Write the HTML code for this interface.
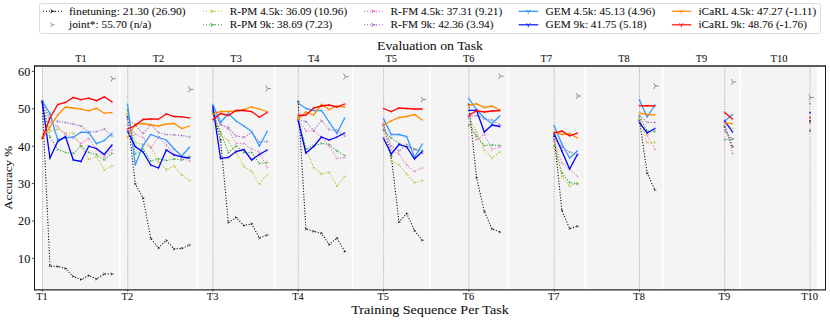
<!DOCTYPE html>
<html><head><meta charset="utf-8"><style>
html,body{margin:0;padding:0;background:#fff;width:830px;height:320px;overflow:hidden}
svg text{font-family:"Liberation Serif", serif;fill:#111;stroke:#111;stroke-width:0.08px}
</style></head><body>
<svg width="830" height="320" viewBox="0 0 830 320" style="display:block">
<rect x="0" y="0" width="830" height="320" fill="#fff"/>
<rect x="42.20" y="66.0" width="76.81" height="223.60000000000002" fill="#f4f4f4"/>
<rect x="120.51" y="66.0" width="76.06" height="223.60000000000002" fill="#f4f4f4"/>
<rect x="198.07" y="66.0" width="76.06" height="223.60000000000002" fill="#f4f4f4"/>
<rect x="275.63" y="66.0" width="76.06" height="223.60000000000002" fill="#f4f4f4"/>
<rect x="353.19" y="66.0" width="76.06" height="223.60000000000002" fill="#f4f4f4"/>
<rect x="430.75" y="66.0" width="76.06" height="223.60000000000002" fill="#f4f4f4"/>
<rect x="508.31" y="66.0" width="76.06" height="223.60000000000002" fill="#f4f4f4"/>
<rect x="585.87" y="66.0" width="76.06" height="223.60000000000002" fill="#f4f4f4"/>
<rect x="663.43" y="66.0" width="76.06" height="223.60000000000002" fill="#f4f4f4"/>
<rect x="740.99" y="66.0" width="76.06" height="223.60000000000002" fill="#f4f4f4"/>
<line x1="42.45" y1="66.0" x2="42.45" y2="289.6" stroke="#999999" stroke-width="0.8" stroke-dasharray="1.25,1.25"/>
<line x1="127.74" y1="66.0" x2="127.74" y2="289.6" stroke="#999999" stroke-width="0.8" stroke-dasharray="1.25,1.25"/>
<line x1="213.03" y1="66.0" x2="213.03" y2="289.6" stroke="#999999" stroke-width="0.8" stroke-dasharray="1.25,1.25"/>
<line x1="298.32" y1="66.0" x2="298.32" y2="289.6" stroke="#999999" stroke-width="0.8" stroke-dasharray="1.25,1.25"/>
<line x1="383.61" y1="66.0" x2="383.61" y2="289.6" stroke="#999999" stroke-width="0.8" stroke-dasharray="1.25,1.25"/>
<line x1="468.90" y1="66.0" x2="468.90" y2="289.6" stroke="#999999" stroke-width="0.8" stroke-dasharray="1.25,1.25"/>
<line x1="554.19" y1="66.0" x2="554.19" y2="289.6" stroke="#999999" stroke-width="0.8" stroke-dasharray="1.25,1.25"/>
<line x1="639.48" y1="66.0" x2="639.48" y2="289.6" stroke="#999999" stroke-width="0.8" stroke-dasharray="1.25,1.25"/>
<line x1="724.77" y1="66.0" x2="724.77" y2="289.6" stroke="#999999" stroke-width="0.8" stroke-dasharray="1.25,1.25"/>
<line x1="810.06" y1="66.0" x2="810.06" y2="289.6" stroke="#999999" stroke-width="0.8" stroke-dasharray="1.25,1.25"/>
<polyline points="42.20,101.80 49.96,266.00 57.71,266.50 65.47,268.50 73.22,276.50 80.98,279.50 88.74,275.50 96.49,279.00 104.25,274.00 112.00,274.00" fill="none" stroke="#000000" stroke-width="1.05" stroke-dasharray="1.1,1.7" stroke-linejoin="round"/>
<path d="M42.20,101.80h1.5M42.20,101.80l-0.75,-1.3M42.20,101.80l-0.75,1.3M49.96,266.00h1.5M49.96,266.00l-0.75,-1.3M49.96,266.00l-0.75,1.3M57.71,266.50h1.5M57.71,266.50l-0.75,-1.3M57.71,266.50l-0.75,1.3M65.47,268.50h1.5M65.47,268.50l-0.75,-1.3M65.47,268.50l-0.75,1.3M73.22,276.50h1.5M73.22,276.50l-0.75,-1.3M73.22,276.50l-0.75,1.3M80.98,279.50h1.5M80.98,279.50l-0.75,-1.3M80.98,279.50l-0.75,1.3M88.74,275.50h1.5M88.74,275.50l-0.75,-1.3M88.74,275.50l-0.75,1.3M96.49,279.00h1.5M96.49,279.00l-0.75,-1.3M96.49,279.00l-0.75,1.3M104.25,274.00h1.5M104.25,274.00l-0.75,-1.3M104.25,274.00l-0.75,1.3M112.00,274.00h1.5M112.00,274.00l-0.75,-1.3M112.00,274.00l-0.75,1.3" fill="none" stroke="#000000" stroke-width="0.6"/>
<polyline points="127.52,116.50 135.27,184.00 143.03,198.00 150.78,238.40 158.54,248.00 166.30,240.40 174.05,249.00 181.81,248.40 189.56,245.00" fill="none" stroke="#000000" stroke-width="1.05" stroke-dasharray="1.1,1.7" stroke-linejoin="round"/>
<path d="M127.52,116.50h1.5M127.52,116.50l-0.75,-1.3M127.52,116.50l-0.75,1.3M135.27,184.00h1.5M135.27,184.00l-0.75,-1.3M135.27,184.00l-0.75,1.3M143.03,198.00h1.5M143.03,198.00l-0.75,-1.3M143.03,198.00l-0.75,1.3M150.78,238.40h1.5M150.78,238.40l-0.75,-1.3M150.78,238.40l-0.75,1.3M158.54,248.00h1.5M158.54,248.00l-0.75,-1.3M158.54,248.00l-0.75,1.3M166.30,240.40h1.5M166.30,240.40l-0.75,-1.3M166.30,240.40l-0.75,1.3M174.05,249.00h1.5M174.05,249.00l-0.75,-1.3M174.05,249.00l-0.75,1.3M181.81,248.40h1.5M181.81,248.40l-0.75,-1.3M181.81,248.40l-0.75,1.3M189.56,245.00h1.5M189.56,245.00l-0.75,-1.3M189.56,245.00l-0.75,1.3" fill="none" stroke="#000000" stroke-width="0.6"/>
<polyline points="212.83,112.00 220.59,140.00 228.34,222.50 236.10,217.50 243.86,225.50 251.61,223.75 259.37,238.00 267.12,235.00" fill="none" stroke="#000000" stroke-width="1.05" stroke-dasharray="1.1,1.7" stroke-linejoin="round"/>
<path d="M212.83,112.00h1.5M212.83,112.00l-0.75,-1.3M212.83,112.00l-0.75,1.3M220.59,140.00h1.5M220.59,140.00l-0.75,-1.3M220.59,140.00l-0.75,1.3M228.34,222.50h1.5M228.34,222.50l-0.75,-1.3M228.34,222.50l-0.75,1.3M236.10,217.50h1.5M236.10,217.50l-0.75,-1.3M236.10,217.50l-0.75,1.3M243.86,225.50h1.5M243.86,225.50l-0.75,-1.3M243.86,225.50l-0.75,1.3M251.61,223.75h1.5M251.61,223.75l-0.75,-1.3M251.61,223.75l-0.75,1.3M259.37,238.00h1.5M259.37,238.00l-0.75,-1.3M259.37,238.00l-0.75,1.3M267.12,235.00h1.5M267.12,235.00l-0.75,-1.3M267.12,235.00l-0.75,1.3" fill="none" stroke="#000000" stroke-width="0.6"/>
<polyline points="298.15,101.50 305.90,229.00 313.66,231.30 321.42,233.30 329.17,244.50 336.93,238.00 344.68,251.50" fill="none" stroke="#000000" stroke-width="1.05" stroke-dasharray="1.1,1.7" stroke-linejoin="round"/>
<path d="M298.15,101.50h1.5M298.15,101.50l-0.75,-1.3M298.15,101.50l-0.75,1.3M305.90,229.00h1.5M305.90,229.00l-0.75,-1.3M305.90,229.00l-0.75,1.3M313.66,231.30h1.5M313.66,231.30l-0.75,-1.3M313.66,231.30l-0.75,1.3M321.42,233.30h1.5M321.42,233.30l-0.75,-1.3M321.42,233.30l-0.75,1.3M329.17,244.50h1.5M329.17,244.50l-0.75,-1.3M329.17,244.50l-0.75,1.3M336.93,238.00h1.5M336.93,238.00l-0.75,-1.3M336.93,238.00l-0.75,1.3M344.68,251.50h1.5M344.68,251.50l-0.75,-1.3M344.68,251.50l-0.75,1.3" fill="none" stroke="#000000" stroke-width="0.6"/>
<polyline points="383.46,125.00 391.22,156.00 398.98,222.00 406.73,213.60 414.49,230.50 422.24,240.30" fill="none" stroke="#000000" stroke-width="1.05" stroke-dasharray="1.1,1.7" stroke-linejoin="round"/>
<path d="M383.46,125.00h1.5M383.46,125.00l-0.75,-1.3M383.46,125.00l-0.75,1.3M391.22,156.00h1.5M391.22,156.00l-0.75,-1.3M391.22,156.00l-0.75,1.3M398.98,222.00h1.5M398.98,222.00l-0.75,-1.3M398.98,222.00l-0.75,1.3M406.73,213.60h1.5M406.73,213.60l-0.75,-1.3M406.73,213.60l-0.75,1.3M414.49,230.50h1.5M414.49,230.50l-0.75,-1.3M414.49,230.50l-0.75,1.3M422.24,240.30h1.5M422.24,240.30l-0.75,-1.3M422.24,240.30l-0.75,1.3" fill="none" stroke="#000000" stroke-width="0.6"/>
<polyline points="468.78,104.40 476.54,177.70 484.29,211.40 492.05,229.00 499.80,232.00" fill="none" stroke="#000000" stroke-width="1.05" stroke-dasharray="1.1,1.7" stroke-linejoin="round"/>
<path d="M468.78,104.40h1.5M468.78,104.40l-0.75,-1.3M468.78,104.40l-0.75,1.3M476.54,177.70h1.5M476.54,177.70l-0.75,-1.3M476.54,177.70l-0.75,1.3M484.29,211.40h1.5M484.29,211.40l-0.75,-1.3M484.29,211.40l-0.75,1.3M492.05,229.00h1.5M492.05,229.00l-0.75,-1.3M492.05,229.00l-0.75,1.3M499.80,232.00h1.5M499.80,232.00l-0.75,-1.3M499.80,232.00l-0.75,1.3" fill="none" stroke="#000000" stroke-width="0.6"/>
<polyline points="554.10,136.00 561.85,210.30 569.61,228.60 577.36,226.30" fill="none" stroke="#000000" stroke-width="1.05" stroke-dasharray="1.1,1.7" stroke-linejoin="round"/>
<path d="M554.10,136.00h1.5M554.10,136.00l-0.75,-1.3M554.10,136.00l-0.75,1.3M561.85,210.30h1.5M561.85,210.30l-0.75,-1.3M561.85,210.30l-0.75,1.3M569.61,228.60h1.5M569.61,228.60l-0.75,-1.3M569.61,228.60l-0.75,1.3M577.36,226.30h1.5M577.36,226.30l-0.75,-1.3M577.36,226.30l-0.75,1.3" fill="none" stroke="#000000" stroke-width="0.6"/>
<polyline points="639.41,120.00 647.17,173.20 654.92,190.00" fill="none" stroke="#000000" stroke-width="1.05" stroke-dasharray="1.1,1.7" stroke-linejoin="round"/>
<path d="M639.41,120.00h1.5M639.41,120.00l-0.75,-1.3M639.41,120.00l-0.75,1.3M647.17,173.20h1.5M647.17,173.20l-0.75,-1.3M647.17,173.20l-0.75,1.3M654.92,190.00h1.5M654.92,190.00l-0.75,-1.3M654.92,190.00l-0.75,1.3" fill="none" stroke="#000000" stroke-width="0.6"/>
<polyline points="724.73,126.60 732.48,146.80" fill="none" stroke="#000000" stroke-width="1.05" stroke-dasharray="1.1,1.7" stroke-linejoin="round"/>
<path d="M724.73,126.60h1.5M724.73,126.60l-0.75,-1.3M724.73,126.60l-0.75,1.3M732.48,146.80h1.5M732.48,146.80l-0.75,-1.3M732.48,146.80l-0.75,1.3" fill="none" stroke="#000000" stroke-width="0.6"/>
<circle cx="810.04" cy="121.00" r="0.9" fill="#000000"/>
<polyline points="42.20,101.80 49.96,131.00 57.71,129.00 65.47,133.50 73.22,133.00 80.98,145.50 88.74,159.50 96.49,156.50 104.25,170.00 112.00,166.00" fill="none" stroke="#bcbd22" stroke-width="1.1" stroke-dasharray="1.1,1.7" stroke-linejoin="round"/>
<path d="M42.20,101.80h1.5M42.20,101.80l-0.75,-1.3M42.20,101.80l-0.75,1.3M49.96,131.00h1.5M49.96,131.00l-0.75,-1.3M49.96,131.00l-0.75,1.3M57.71,129.00h1.5M57.71,129.00l-0.75,-1.3M57.71,129.00l-0.75,1.3M65.47,133.50h1.5M65.47,133.50l-0.75,-1.3M65.47,133.50l-0.75,1.3M73.22,133.00h1.5M73.22,133.00l-0.75,-1.3M73.22,133.00l-0.75,1.3M80.98,145.50h1.5M80.98,145.50l-0.75,-1.3M80.98,145.50l-0.75,1.3M88.74,159.50h1.5M88.74,159.50l-0.75,-1.3M88.74,159.50l-0.75,1.3M96.49,156.50h1.5M96.49,156.50l-0.75,-1.3M96.49,156.50l-0.75,1.3M104.25,170.00h1.5M104.25,170.00l-0.75,-1.3M104.25,170.00l-0.75,1.3M112.00,166.00h1.5M112.00,166.00l-0.75,-1.3M112.00,166.00l-0.75,1.3" fill="none" stroke="#bcbd22" stroke-width="0.6"/>
<polyline points="127.52,113.50 135.27,142.50 143.03,144.50 150.78,146.50 158.54,162.00 166.30,169.50 174.05,166.00 181.81,175.00 189.56,180.50" fill="none" stroke="#bcbd22" stroke-width="1.1" stroke-dasharray="1.1,1.7" stroke-linejoin="round"/>
<path d="M127.52,113.50h1.5M127.52,113.50l-0.75,-1.3M127.52,113.50l-0.75,1.3M135.27,142.50h1.5M135.27,142.50l-0.75,-1.3M135.27,142.50l-0.75,1.3M143.03,144.50h1.5M143.03,144.50l-0.75,-1.3M143.03,144.50l-0.75,1.3M150.78,146.50h1.5M150.78,146.50l-0.75,-1.3M150.78,146.50l-0.75,1.3M158.54,162.00h1.5M158.54,162.00l-0.75,-1.3M158.54,162.00l-0.75,1.3M166.30,169.50h1.5M166.30,169.50l-0.75,-1.3M166.30,169.50l-0.75,1.3M174.05,166.00h1.5M174.05,166.00l-0.75,-1.3M174.05,166.00l-0.75,1.3M181.81,175.00h1.5M181.81,175.00l-0.75,-1.3M181.81,175.00l-0.75,1.3M189.56,180.50h1.5M189.56,180.50l-0.75,-1.3M189.56,180.50l-0.75,1.3" fill="none" stroke="#bcbd22" stroke-width="0.6"/>
<polyline points="212.83,112.00 220.59,135.00 228.34,140.50 236.10,153.00 243.86,166.50 251.61,171.30 259.37,184.50 267.12,174.80" fill="none" stroke="#bcbd22" stroke-width="1.1" stroke-dasharray="1.1,1.7" stroke-linejoin="round"/>
<path d="M212.83,112.00h1.5M212.83,112.00l-0.75,-1.3M212.83,112.00l-0.75,1.3M220.59,135.00h1.5M220.59,135.00l-0.75,-1.3M220.59,135.00l-0.75,1.3M228.34,140.50h1.5M228.34,140.50l-0.75,-1.3M228.34,140.50l-0.75,1.3M236.10,153.00h1.5M236.10,153.00l-0.75,-1.3M236.10,153.00l-0.75,1.3M243.86,166.50h1.5M243.86,166.50l-0.75,-1.3M243.86,166.50l-0.75,1.3M251.61,171.30h1.5M251.61,171.30l-0.75,-1.3M251.61,171.30l-0.75,1.3M259.37,184.50h1.5M259.37,184.50l-0.75,-1.3M259.37,184.50l-0.75,1.3M267.12,174.80h1.5M267.12,174.80l-0.75,-1.3M267.12,174.80l-0.75,1.3" fill="none" stroke="#bcbd22" stroke-width="0.6"/>
<polyline points="298.15,119.00 305.90,149.00 313.66,167.50 321.42,174.00 329.17,172.20 336.93,186.00 344.68,176.60" fill="none" stroke="#bcbd22" stroke-width="1.1" stroke-dasharray="1.1,1.7" stroke-linejoin="round"/>
<path d="M298.15,119.00h1.5M298.15,119.00l-0.75,-1.3M298.15,119.00l-0.75,1.3M305.90,149.00h1.5M305.90,149.00l-0.75,-1.3M305.90,149.00l-0.75,1.3M313.66,167.50h1.5M313.66,167.50l-0.75,-1.3M313.66,167.50l-0.75,1.3M321.42,174.00h1.5M321.42,174.00l-0.75,-1.3M321.42,174.00l-0.75,1.3M329.17,172.20h1.5M329.17,172.20l-0.75,-1.3M329.17,172.20l-0.75,1.3M336.93,186.00h1.5M336.93,186.00l-0.75,-1.3M336.93,186.00l-0.75,1.3M344.68,176.60h1.5M344.68,176.60l-0.75,-1.3M344.68,176.60l-0.75,1.3" fill="none" stroke="#bcbd22" stroke-width="0.6"/>
<polyline points="383.46,125.00 391.22,161.00 398.98,165.00 406.73,174.00 414.49,182.70 422.24,180.70" fill="none" stroke="#bcbd22" stroke-width="1.1" stroke-dasharray="1.1,1.7" stroke-linejoin="round"/>
<path d="M383.46,125.00h1.5M383.46,125.00l-0.75,-1.3M383.46,125.00l-0.75,1.3M391.22,161.00h1.5M391.22,161.00l-0.75,-1.3M391.22,161.00l-0.75,1.3M398.98,165.00h1.5M398.98,165.00l-0.75,-1.3M398.98,165.00l-0.75,1.3M406.73,174.00h1.5M406.73,174.00l-0.75,-1.3M406.73,174.00l-0.75,1.3M414.49,182.70h1.5M414.49,182.70l-0.75,-1.3M414.49,182.70l-0.75,1.3M422.24,180.70h1.5M422.24,180.70l-0.75,-1.3M422.24,180.70l-0.75,1.3" fill="none" stroke="#bcbd22" stroke-width="0.6"/>
<polyline points="468.78,116.60 476.54,132.00 484.29,150.00 492.05,158.00 499.80,152.00" fill="none" stroke="#bcbd22" stroke-width="1.1" stroke-dasharray="1.1,1.7" stroke-linejoin="round"/>
<path d="M468.78,116.60h1.5M468.78,116.60l-0.75,-1.3M468.78,116.60l-0.75,1.3M476.54,132.00h1.5M476.54,132.00l-0.75,-1.3M476.54,132.00l-0.75,1.3M484.29,150.00h1.5M484.29,150.00l-0.75,-1.3M484.29,150.00l-0.75,1.3M492.05,158.00h1.5M492.05,158.00l-0.75,-1.3M492.05,158.00l-0.75,1.3M499.80,152.00h1.5M499.80,152.00l-0.75,-1.3M499.80,152.00l-0.75,1.3" fill="none" stroke="#bcbd22" stroke-width="0.6"/>
<polyline points="554.10,140.00 561.85,176.50 569.61,186.00 577.36,183.00" fill="none" stroke="#bcbd22" stroke-width="1.1" stroke-dasharray="1.1,1.7" stroke-linejoin="round"/>
<path d="M554.10,140.00h1.5M554.10,140.00l-0.75,-1.3M554.10,140.00l-0.75,1.3M561.85,176.50h1.5M561.85,176.50l-0.75,-1.3M561.85,176.50l-0.75,1.3M569.61,186.00h1.5M569.61,186.00l-0.75,-1.3M569.61,186.00l-0.75,1.3M577.36,183.00h1.5M577.36,183.00l-0.75,-1.3M577.36,183.00l-0.75,1.3" fill="none" stroke="#bcbd22" stroke-width="0.6"/>
<polyline points="639.41,119.00 647.17,142.60 654.92,142.50" fill="none" stroke="#bcbd22" stroke-width="1.1" stroke-dasharray="1.1,1.7" stroke-linejoin="round"/>
<path d="M639.41,119.00h1.5M639.41,119.00l-0.75,-1.3M639.41,119.00l-0.75,1.3M647.17,142.60h1.5M647.17,142.60l-0.75,-1.3M647.17,142.60l-0.75,1.3M654.92,142.50h1.5M654.92,142.50l-0.75,-1.3M654.92,142.50l-0.75,1.3" fill="none" stroke="#bcbd22" stroke-width="0.6"/>
<polyline points="724.73,123.00 732.48,128.50" fill="none" stroke="#bcbd22" stroke-width="1.1" stroke-dasharray="1.1,1.7" stroke-linejoin="round"/>
<path d="M724.73,123.00h1.5M724.73,123.00l-0.75,-1.3M724.73,123.00l-0.75,1.3M732.48,128.50h1.5M732.48,128.50l-0.75,-1.3M732.48,128.50l-0.75,1.3" fill="none" stroke="#bcbd22" stroke-width="0.6"/>
<circle cx="810.04" cy="131.20" r="0.9" fill="#bcbd22"/>
<polyline points="42.20,101.80 49.96,137.00 57.71,149.50 65.47,152.50 73.22,153.50 80.98,146.00 88.74,152.50 96.49,154.50 104.25,160.00 112.00,153.50" fill="none" stroke="#2ca02c" stroke-width="1.1" stroke-dasharray="1.1,1.7" stroke-linejoin="round"/>
<path d="M42.20,101.80h1.5M42.20,101.80l-0.75,-1.3M42.20,101.80l-0.75,1.3M49.96,137.00h1.5M49.96,137.00l-0.75,-1.3M49.96,137.00l-0.75,1.3M57.71,149.50h1.5M57.71,149.50l-0.75,-1.3M57.71,149.50l-0.75,1.3M65.47,152.50h1.5M65.47,152.50l-0.75,-1.3M65.47,152.50l-0.75,1.3M73.22,153.50h1.5M73.22,153.50l-0.75,-1.3M73.22,153.50l-0.75,1.3M80.98,146.00h1.5M80.98,146.00l-0.75,-1.3M80.98,146.00l-0.75,1.3M88.74,152.50h1.5M88.74,152.50l-0.75,-1.3M88.74,152.50l-0.75,1.3M96.49,154.50h1.5M96.49,154.50l-0.75,-1.3M96.49,154.50l-0.75,1.3M104.25,160.00h1.5M104.25,160.00l-0.75,-1.3M104.25,160.00l-0.75,1.3M112.00,153.50h1.5M112.00,153.50l-0.75,-1.3M112.00,153.50l-0.75,1.3" fill="none" stroke="#2ca02c" stroke-width="0.6"/>
<polyline points="127.52,110.00 135.27,154.00 143.03,149.00 150.78,161.00 158.54,159.00 166.30,160.50 174.05,159.00 181.81,160.00 189.56,156.50" fill="none" stroke="#2ca02c" stroke-width="1.1" stroke-dasharray="1.1,1.7" stroke-linejoin="round"/>
<path d="M127.52,110.00h1.5M127.52,110.00l-0.75,-1.3M127.52,110.00l-0.75,1.3M135.27,154.00h1.5M135.27,154.00l-0.75,-1.3M135.27,154.00l-0.75,1.3M143.03,149.00h1.5M143.03,149.00l-0.75,-1.3M143.03,149.00l-0.75,1.3M150.78,161.00h1.5M150.78,161.00l-0.75,-1.3M150.78,161.00l-0.75,1.3M158.54,159.00h1.5M158.54,159.00l-0.75,-1.3M158.54,159.00l-0.75,1.3M166.30,160.50h1.5M166.30,160.50l-0.75,-1.3M166.30,160.50l-0.75,1.3M174.05,159.00h1.5M174.05,159.00l-0.75,-1.3M174.05,159.00l-0.75,1.3M181.81,160.00h1.5M181.81,160.00l-0.75,-1.3M181.81,160.00l-0.75,1.3M189.56,156.50h1.5M189.56,156.50l-0.75,-1.3M189.56,156.50l-0.75,1.3" fill="none" stroke="#2ca02c" stroke-width="0.6"/>
<polyline points="212.83,113.00 220.59,132.00 228.34,152.50 236.10,146.00 243.86,152.50 251.61,152.50 259.37,163.50 267.12,162.50" fill="none" stroke="#2ca02c" stroke-width="1.1" stroke-dasharray="1.1,1.7" stroke-linejoin="round"/>
<path d="M212.83,113.00h1.5M212.83,113.00l-0.75,-1.3M212.83,113.00l-0.75,1.3M220.59,132.00h1.5M220.59,132.00l-0.75,-1.3M220.59,132.00l-0.75,1.3M228.34,152.50h1.5M228.34,152.50l-0.75,-1.3M228.34,152.50l-0.75,1.3M236.10,146.00h1.5M236.10,146.00l-0.75,-1.3M236.10,146.00l-0.75,1.3M243.86,152.50h1.5M243.86,152.50l-0.75,-1.3M243.86,152.50l-0.75,1.3M251.61,152.50h1.5M251.61,152.50l-0.75,-1.3M251.61,152.50l-0.75,1.3M259.37,163.50h1.5M259.37,163.50l-0.75,-1.3M259.37,163.50l-0.75,1.3M267.12,162.50h1.5M267.12,162.50l-0.75,-1.3M267.12,162.50l-0.75,1.3" fill="none" stroke="#2ca02c" stroke-width="0.6"/>
<polyline points="298.15,118.00 305.90,149.00 313.66,146.00 321.42,143.50 329.17,144.50 336.93,151.00 344.68,155.50" fill="none" stroke="#2ca02c" stroke-width="1.1" stroke-dasharray="1.1,1.7" stroke-linejoin="round"/>
<path d="M298.15,118.00h1.5M298.15,118.00l-0.75,-1.3M298.15,118.00l-0.75,1.3M305.90,149.00h1.5M305.90,149.00l-0.75,-1.3M305.90,149.00l-0.75,1.3M313.66,146.00h1.5M313.66,146.00l-0.75,-1.3M313.66,146.00l-0.75,1.3M321.42,143.50h1.5M321.42,143.50l-0.75,-1.3M321.42,143.50l-0.75,1.3M329.17,144.50h1.5M329.17,144.50l-0.75,-1.3M329.17,144.50l-0.75,1.3M336.93,151.00h1.5M336.93,151.00l-0.75,-1.3M336.93,151.00l-0.75,1.3M344.68,155.50h1.5M344.68,155.50l-0.75,-1.3M344.68,155.50l-0.75,1.3" fill="none" stroke="#2ca02c" stroke-width="0.6"/>
<polyline points="383.46,130.00 391.22,138.00 398.98,143.50 406.73,146.50 414.49,149.00 422.24,150.50" fill="none" stroke="#2ca02c" stroke-width="1.1" stroke-dasharray="1.1,1.7" stroke-linejoin="round"/>
<path d="M383.46,130.00h1.5M383.46,130.00l-0.75,-1.3M383.46,130.00l-0.75,1.3M391.22,138.00h1.5M391.22,138.00l-0.75,-1.3M391.22,138.00l-0.75,1.3M398.98,143.50h1.5M398.98,143.50l-0.75,-1.3M398.98,143.50l-0.75,1.3M406.73,146.50h1.5M406.73,146.50l-0.75,-1.3M406.73,146.50l-0.75,1.3M414.49,149.00h1.5M414.49,149.00l-0.75,-1.3M414.49,149.00l-0.75,1.3M422.24,150.50h1.5M422.24,150.50l-0.75,-1.3M422.24,150.50l-0.75,1.3" fill="none" stroke="#2ca02c" stroke-width="0.6"/>
<polyline points="468.78,125.00 476.54,136.00 484.29,145.50 492.05,145.00 499.80,145.50" fill="none" stroke="#2ca02c" stroke-width="1.1" stroke-dasharray="1.1,1.7" stroke-linejoin="round"/>
<path d="M468.78,125.00h1.5M468.78,125.00l-0.75,-1.3M468.78,125.00l-0.75,1.3M476.54,136.00h1.5M476.54,136.00l-0.75,-1.3M476.54,136.00l-0.75,1.3M484.29,145.50h1.5M484.29,145.50l-0.75,-1.3M484.29,145.50l-0.75,1.3M492.05,145.00h1.5M492.05,145.00l-0.75,-1.3M492.05,145.00l-0.75,1.3M499.80,145.50h1.5M499.80,145.50l-0.75,-1.3M499.80,145.50l-0.75,1.3" fill="none" stroke="#2ca02c" stroke-width="0.6"/>
<polyline points="554.10,146.00 561.85,172.80 569.61,182.50 577.36,184.00" fill="none" stroke="#2ca02c" stroke-width="1.1" stroke-dasharray="1.1,1.7" stroke-linejoin="round"/>
<path d="M554.10,146.00h1.5M554.10,146.00l-0.75,-1.3M554.10,146.00l-0.75,1.3M561.85,172.80h1.5M561.85,172.80l-0.75,-1.3M561.85,172.80l-0.75,1.3M569.61,182.50h1.5M569.61,182.50l-0.75,-1.3M569.61,182.50l-0.75,1.3M577.36,184.00h1.5M577.36,184.00l-0.75,-1.3M577.36,184.00l-0.75,1.3" fill="none" stroke="#2ca02c" stroke-width="0.6"/>
<polyline points="639.41,116.60 647.17,131.00 654.92,131.50" fill="none" stroke="#2ca02c" stroke-width="1.1" stroke-dasharray="1.1,1.7" stroke-linejoin="round"/>
<path d="M639.41,116.60h1.5M639.41,116.60l-0.75,-1.3M639.41,116.60l-0.75,1.3M647.17,131.00h1.5M647.17,131.00l-0.75,-1.3M647.17,131.00l-0.75,1.3M654.92,131.50h1.5M654.92,131.50l-0.75,-1.3M654.92,131.50l-0.75,1.3" fill="none" stroke="#2ca02c" stroke-width="0.6"/>
<polyline points="724.73,139.70 732.48,138.80" fill="none" stroke="#2ca02c" stroke-width="1.1" stroke-dasharray="1.1,1.7" stroke-linejoin="round"/>
<path d="M724.73,139.70h1.5M724.73,139.70l-0.75,-1.3M724.73,139.70l-0.75,1.3M732.48,138.80h1.5M732.48,138.80l-0.75,-1.3M732.48,138.80l-0.75,1.3" fill="none" stroke="#2ca02c" stroke-width="0.6"/>
<circle cx="810.04" cy="131.00" r="0.9" fill="#2ca02c"/>
<polyline points="42.20,101.80 49.96,122.00 57.71,126.50 65.47,134.00 73.22,138.00 80.98,143.50 88.74,138.50 96.49,149.50 104.25,157.50 112.00,150.00" fill="none" stroke="#e377c2" stroke-width="1.1" stroke-dasharray="1.1,1.7" stroke-linejoin="round"/>
<path d="M42.20,101.80h1.5M42.20,101.80l-0.75,-1.3M42.20,101.80l-0.75,1.3M49.96,122.00h1.5M49.96,122.00l-0.75,-1.3M49.96,122.00l-0.75,1.3M57.71,126.50h1.5M57.71,126.50l-0.75,-1.3M57.71,126.50l-0.75,1.3M65.47,134.00h1.5M65.47,134.00l-0.75,-1.3M65.47,134.00l-0.75,1.3M73.22,138.00h1.5M73.22,138.00l-0.75,-1.3M73.22,138.00l-0.75,1.3M80.98,143.50h1.5M80.98,143.50l-0.75,-1.3M80.98,143.50l-0.75,1.3M88.74,138.50h1.5M88.74,138.50l-0.75,-1.3M88.74,138.50l-0.75,1.3M96.49,149.50h1.5M96.49,149.50l-0.75,-1.3M96.49,149.50l-0.75,1.3M104.25,157.50h1.5M104.25,157.50l-0.75,-1.3M104.25,157.50l-0.75,1.3M112.00,150.00h1.5M112.00,150.00l-0.75,-1.3M112.00,150.00l-0.75,1.3" fill="none" stroke="#e377c2" stroke-width="0.6"/>
<polyline points="127.52,125.00 135.27,134.00 143.03,137.50 150.78,148.00 158.54,136.50 166.30,145.00 174.05,154.00 181.81,158.00 189.56,161.00" fill="none" stroke="#e377c2" stroke-width="1.1" stroke-dasharray="1.1,1.7" stroke-linejoin="round"/>
<path d="M127.52,125.00h1.5M127.52,125.00l-0.75,-1.3M127.52,125.00l-0.75,1.3M135.27,134.00h1.5M135.27,134.00l-0.75,-1.3M135.27,134.00l-0.75,1.3M143.03,137.50h1.5M143.03,137.50l-0.75,-1.3M143.03,137.50l-0.75,1.3M150.78,148.00h1.5M150.78,148.00l-0.75,-1.3M150.78,148.00l-0.75,1.3M158.54,136.50h1.5M158.54,136.50l-0.75,-1.3M158.54,136.50l-0.75,1.3M166.30,145.00h1.5M166.30,145.00l-0.75,-1.3M166.30,145.00l-0.75,1.3M174.05,154.00h1.5M174.05,154.00l-0.75,-1.3M174.05,154.00l-0.75,1.3M181.81,158.00h1.5M181.81,158.00l-0.75,-1.3M181.81,158.00l-0.75,1.3M189.56,161.00h1.5M189.56,161.00l-0.75,-1.3M189.56,161.00l-0.75,1.3" fill="none" stroke="#e377c2" stroke-width="0.6"/>
<polyline points="212.83,111.00 220.59,124.50 228.34,129.00 236.10,143.50 243.86,143.50 251.61,149.00 259.37,152.00 267.12,167.50" fill="none" stroke="#e377c2" stroke-width="1.1" stroke-dasharray="1.1,1.7" stroke-linejoin="round"/>
<path d="M212.83,111.00h1.5M212.83,111.00l-0.75,-1.3M212.83,111.00l-0.75,1.3M220.59,124.50h1.5M220.59,124.50l-0.75,-1.3M220.59,124.50l-0.75,1.3M228.34,129.00h1.5M228.34,129.00l-0.75,-1.3M228.34,129.00l-0.75,1.3M236.10,143.50h1.5M236.10,143.50l-0.75,-1.3M236.10,143.50l-0.75,1.3M243.86,143.50h1.5M243.86,143.50l-0.75,-1.3M243.86,143.50l-0.75,1.3M251.61,149.00h1.5M251.61,149.00l-0.75,-1.3M251.61,149.00l-0.75,1.3M259.37,152.00h1.5M259.37,152.00l-0.75,-1.3M259.37,152.00l-0.75,1.3M267.12,167.50h1.5M267.12,167.50l-0.75,-1.3M267.12,167.50l-0.75,1.3" fill="none" stroke="#e377c2" stroke-width="0.6"/>
<polyline points="298.15,119.00 305.90,131.00 313.66,131.00 321.42,137.00 329.17,146.00 336.93,158.50 344.68,157.50" fill="none" stroke="#e377c2" stroke-width="1.1" stroke-dasharray="1.1,1.7" stroke-linejoin="round"/>
<path d="M298.15,119.00h1.5M298.15,119.00l-0.75,-1.3M298.15,119.00l-0.75,1.3M305.90,131.00h1.5M305.90,131.00l-0.75,-1.3M305.90,131.00l-0.75,1.3M313.66,131.00h1.5M313.66,131.00l-0.75,-1.3M313.66,131.00l-0.75,1.3M321.42,137.00h1.5M321.42,137.00l-0.75,-1.3M321.42,137.00l-0.75,1.3M329.17,146.00h1.5M329.17,146.00l-0.75,-1.3M329.17,146.00l-0.75,1.3M336.93,158.50h1.5M336.93,158.50l-0.75,-1.3M336.93,158.50l-0.75,1.3M344.68,157.50h1.5M344.68,157.50l-0.75,-1.3M344.68,157.50l-0.75,1.3" fill="none" stroke="#e377c2" stroke-width="0.6"/>
<polyline points="383.46,125.00 391.22,150.00 398.98,154.00 406.73,165.00 414.49,171.50 422.24,168.00" fill="none" stroke="#e377c2" stroke-width="1.1" stroke-dasharray="1.1,1.7" stroke-linejoin="round"/>
<path d="M383.46,125.00h1.5M383.46,125.00l-0.75,-1.3M383.46,125.00l-0.75,1.3M391.22,150.00h1.5M391.22,150.00l-0.75,-1.3M391.22,150.00l-0.75,1.3M398.98,154.00h1.5M398.98,154.00l-0.75,-1.3M398.98,154.00l-0.75,1.3M406.73,165.00h1.5M406.73,165.00l-0.75,-1.3M406.73,165.00l-0.75,1.3M414.49,171.50h1.5M414.49,171.50l-0.75,-1.3M414.49,171.50l-0.75,1.3M422.24,168.00h1.5M422.24,168.00l-0.75,-1.3M422.24,168.00l-0.75,1.3" fill="none" stroke="#e377c2" stroke-width="0.6"/>
<polyline points="468.78,117.50 476.54,140.00 484.29,134.50 492.05,149.50 499.80,147.00" fill="none" stroke="#e377c2" stroke-width="1.1" stroke-dasharray="1.1,1.7" stroke-linejoin="round"/>
<path d="M468.78,117.50h1.5M468.78,117.50l-0.75,-1.3M468.78,117.50l-0.75,1.3M476.54,140.00h1.5M476.54,140.00l-0.75,-1.3M476.54,140.00l-0.75,1.3M484.29,134.50h1.5M484.29,134.50l-0.75,-1.3M484.29,134.50l-0.75,1.3M492.05,149.50h1.5M492.05,149.50l-0.75,-1.3M492.05,149.50l-0.75,1.3M499.80,147.00h1.5M499.80,147.00l-0.75,-1.3M499.80,147.00l-0.75,1.3" fill="none" stroke="#e377c2" stroke-width="0.6"/>
<polyline points="554.10,140.60 561.85,163.00 569.61,169.00 577.36,176.50" fill="none" stroke="#e377c2" stroke-width="1.1" stroke-dasharray="1.1,1.7" stroke-linejoin="round"/>
<path d="M554.10,140.60h1.5M554.10,140.60l-0.75,-1.3M554.10,140.60l-0.75,1.3M561.85,163.00h1.5M561.85,163.00l-0.75,-1.3M561.85,163.00l-0.75,1.3M569.61,169.00h1.5M569.61,169.00l-0.75,-1.3M569.61,169.00l-0.75,1.3M577.36,176.50h1.5M577.36,176.50l-0.75,-1.3M577.36,176.50l-0.75,1.3" fill="none" stroke="#e377c2" stroke-width="0.6"/>
<polyline points="639.41,121.00 647.17,135.00 654.92,149.50" fill="none" stroke="#e377c2" stroke-width="1.1" stroke-dasharray="1.1,1.7" stroke-linejoin="round"/>
<path d="M639.41,121.00h1.5M639.41,121.00l-0.75,-1.3M639.41,121.00l-0.75,1.3M647.17,135.00h1.5M647.17,135.00l-0.75,-1.3M647.17,135.00l-0.75,1.3M654.92,149.50h1.5M654.92,149.50l-0.75,-1.3M654.92,149.50l-0.75,1.3" fill="none" stroke="#e377c2" stroke-width="0.6"/>
<polyline points="724.73,123.00 732.48,153.50" fill="none" stroke="#e377c2" stroke-width="1.1" stroke-dasharray="1.1,1.7" stroke-linejoin="round"/>
<path d="M724.73,123.00h1.5M724.73,123.00l-0.75,-1.3M724.73,123.00l-0.75,1.3M732.48,153.50h1.5M732.48,153.50l-0.75,-1.3M732.48,153.50l-0.75,1.3" fill="none" stroke="#e377c2" stroke-width="0.6"/>
<circle cx="810.04" cy="129.40" r="0.9" fill="#e377c2"/>
<polyline points="42.20,101.80 49.96,118.00 57.71,121.50 65.47,122.50 73.22,124.00 80.98,126.00 88.74,132.00 96.49,131.50 104.25,129.00 112.00,136.00" fill="none" stroke="#9467bd" stroke-width="1.1" stroke-dasharray="1.1,1.7" stroke-linejoin="round"/>
<path d="M42.20,101.80h1.5M42.20,101.80l-0.75,-1.3M42.20,101.80l-0.75,1.3M49.96,118.00h1.5M49.96,118.00l-0.75,-1.3M49.96,118.00l-0.75,1.3M57.71,121.50h1.5M57.71,121.50l-0.75,-1.3M57.71,121.50l-0.75,1.3M65.47,122.50h1.5M65.47,122.50l-0.75,-1.3M65.47,122.50l-0.75,1.3M73.22,124.00h1.5M73.22,124.00l-0.75,-1.3M73.22,124.00l-0.75,1.3M80.98,126.00h1.5M80.98,126.00l-0.75,-1.3M80.98,126.00l-0.75,1.3M88.74,132.00h1.5M88.74,132.00l-0.75,-1.3M88.74,132.00l-0.75,1.3M96.49,131.50h1.5M96.49,131.50l-0.75,-1.3M96.49,131.50l-0.75,1.3M104.25,129.00h1.5M104.25,129.00l-0.75,-1.3M104.25,129.00l-0.75,1.3M112.00,136.00h1.5M112.00,136.00l-0.75,-1.3M112.00,136.00l-0.75,1.3" fill="none" stroke="#9467bd" stroke-width="0.6"/>
<polyline points="127.52,118.50 135.27,125.00 143.03,133.50 150.78,124.50 158.54,132.50 166.30,134.50 174.05,135.00 181.81,135.50 189.56,137.00" fill="none" stroke="#9467bd" stroke-width="1.1" stroke-dasharray="1.1,1.7" stroke-linejoin="round"/>
<path d="M127.52,118.50h1.5M127.52,118.50l-0.75,-1.3M127.52,118.50l-0.75,1.3M135.27,125.00h1.5M135.27,125.00l-0.75,-1.3M135.27,125.00l-0.75,1.3M143.03,133.50h1.5M143.03,133.50l-0.75,-1.3M143.03,133.50l-0.75,1.3M150.78,124.50h1.5M150.78,124.50l-0.75,-1.3M150.78,124.50l-0.75,1.3M158.54,132.50h1.5M158.54,132.50l-0.75,-1.3M158.54,132.50l-0.75,1.3M166.30,134.50h1.5M166.30,134.50l-0.75,-1.3M166.30,134.50l-0.75,1.3M174.05,135.00h1.5M174.05,135.00l-0.75,-1.3M174.05,135.00l-0.75,1.3M181.81,135.50h1.5M181.81,135.50l-0.75,-1.3M181.81,135.50l-0.75,1.3M189.56,137.00h1.5M189.56,137.00l-0.75,-1.3M189.56,137.00l-0.75,1.3" fill="none" stroke="#9467bd" stroke-width="0.6"/>
<polyline points="212.83,110.00 220.59,124.50 228.34,127.50 236.10,136.00 243.86,137.50 251.61,132.50 259.37,142.00 267.12,141.50" fill="none" stroke="#9467bd" stroke-width="1.1" stroke-dasharray="1.1,1.7" stroke-linejoin="round"/>
<path d="M212.83,110.00h1.5M212.83,110.00l-0.75,-1.3M212.83,110.00l-0.75,1.3M220.59,124.50h1.5M220.59,124.50l-0.75,-1.3M220.59,124.50l-0.75,1.3M228.34,127.50h1.5M228.34,127.50l-0.75,-1.3M228.34,127.50l-0.75,1.3M236.10,136.00h1.5M236.10,136.00l-0.75,-1.3M236.10,136.00l-0.75,1.3M243.86,137.50h1.5M243.86,137.50l-0.75,-1.3M243.86,137.50l-0.75,1.3M251.61,132.50h1.5M251.61,132.50l-0.75,-1.3M251.61,132.50l-0.75,1.3M259.37,142.00h1.5M259.37,142.00l-0.75,-1.3M259.37,142.00l-0.75,1.3M267.12,141.50h1.5M267.12,141.50l-0.75,-1.3M267.12,141.50l-0.75,1.3" fill="none" stroke="#9467bd" stroke-width="0.6"/>
<polyline points="298.15,119.50 305.90,121.50 313.66,130.50 321.42,120.50 329.17,129.50 336.93,130.50 344.68,136.00" fill="none" stroke="#9467bd" stroke-width="1.1" stroke-dasharray="1.1,1.7" stroke-linejoin="round"/>
<path d="M298.15,119.50h1.5M298.15,119.50l-0.75,-1.3M298.15,119.50l-0.75,1.3M305.90,121.50h1.5M305.90,121.50l-0.75,-1.3M305.90,121.50l-0.75,1.3M313.66,130.50h1.5M313.66,130.50l-0.75,-1.3M313.66,130.50l-0.75,1.3M321.42,120.50h1.5M321.42,120.50l-0.75,-1.3M321.42,120.50l-0.75,1.3M329.17,129.50h1.5M329.17,129.50l-0.75,-1.3M329.17,129.50l-0.75,1.3M336.93,130.50h1.5M336.93,130.50l-0.75,-1.3M336.93,130.50l-0.75,1.3M344.68,136.00h1.5M344.68,136.00l-0.75,-1.3M344.68,136.00l-0.75,1.3" fill="none" stroke="#9467bd" stroke-width="0.6"/>
<polyline points="383.46,124.00 391.22,146.00 398.98,151.00 406.73,144.50 414.49,149.50 422.24,153.50" fill="none" stroke="#9467bd" stroke-width="1.1" stroke-dasharray="1.1,1.7" stroke-linejoin="round"/>
<path d="M383.46,124.00h1.5M383.46,124.00l-0.75,-1.3M383.46,124.00l-0.75,1.3M391.22,146.00h1.5M391.22,146.00l-0.75,-1.3M391.22,146.00l-0.75,1.3M398.98,151.00h1.5M398.98,151.00l-0.75,-1.3M398.98,151.00l-0.75,1.3M406.73,144.50h1.5M406.73,144.50l-0.75,-1.3M406.73,144.50l-0.75,1.3M414.49,149.50h1.5M414.49,149.50l-0.75,-1.3M414.49,149.50l-0.75,1.3M422.24,153.50h1.5M422.24,153.50l-0.75,-1.3M422.24,153.50l-0.75,1.3" fill="none" stroke="#9467bd" stroke-width="0.6"/>
<polyline points="468.78,116.60 476.54,115.60 484.29,118.50 492.05,120.00 499.80,125.00" fill="none" stroke="#9467bd" stroke-width="1.1" stroke-dasharray="1.1,1.7" stroke-linejoin="round"/>
<path d="M468.78,116.60h1.5M468.78,116.60l-0.75,-1.3M468.78,116.60l-0.75,1.3M476.54,115.60h1.5M476.54,115.60l-0.75,-1.3M476.54,115.60l-0.75,1.3M484.29,118.50h1.5M484.29,118.50l-0.75,-1.3M484.29,118.50l-0.75,1.3M492.05,120.00h1.5M492.05,120.00l-0.75,-1.3M492.05,120.00l-0.75,1.3M499.80,125.00h1.5M499.80,125.00l-0.75,-1.3M499.80,125.00l-0.75,1.3" fill="none" stroke="#9467bd" stroke-width="0.6"/>
<polyline points="554.10,139.00 561.85,147.00 569.61,152.00 577.36,154.50" fill="none" stroke="#9467bd" stroke-width="1.1" stroke-dasharray="1.1,1.7" stroke-linejoin="round"/>
<path d="M554.10,139.00h1.5M554.10,139.00l-0.75,-1.3M554.10,139.00l-0.75,1.3M561.85,147.00h1.5M561.85,147.00l-0.75,-1.3M561.85,147.00l-0.75,1.3M569.61,152.00h1.5M569.61,152.00l-0.75,-1.3M569.61,152.00l-0.75,1.3M577.36,154.50h1.5M577.36,154.50l-0.75,-1.3M577.36,154.50l-0.75,1.3" fill="none" stroke="#9467bd" stroke-width="0.6"/>
<polyline points="639.41,115.60 647.17,122.30 654.92,122.50" fill="none" stroke="#9467bd" stroke-width="1.1" stroke-dasharray="1.1,1.7" stroke-linejoin="round"/>
<path d="M639.41,115.60h1.5M639.41,115.60l-0.75,-1.3M639.41,115.60l-0.75,1.3M647.17,122.30h1.5M647.17,122.30l-0.75,-1.3M647.17,122.30l-0.75,1.3M654.92,122.50h1.5M654.92,122.50l-0.75,-1.3M654.92,122.50l-0.75,1.3" fill="none" stroke="#9467bd" stroke-width="0.6"/>
<polyline points="724.73,131.00 732.48,139.50" fill="none" stroke="#9467bd" stroke-width="1.1" stroke-dasharray="1.1,1.7" stroke-linejoin="round"/>
<path d="M724.73,131.00h1.5M724.73,131.00l-0.75,-1.3M724.73,131.00l-0.75,1.3M732.48,139.50h1.5M732.48,139.50l-0.75,-1.3M732.48,139.50l-0.75,1.3" fill="none" stroke="#9467bd" stroke-width="0.6"/>
<circle cx="810.04" cy="122.50" r="0.9" fill="#9467bd"/>
<polyline points="42.20,101.00 49.96,113.50 57.71,140.00 65.47,137.80 73.22,137.20 80.98,132.20 88.74,132.50 96.49,143.70 104.25,140.50 112.00,133.50" fill="none" stroke="#3399ff" stroke-width="1.3" stroke-linejoin="miter"/>
<path d="M42.20,101.00v1.3M42.20,101.00l-1.1,-0.65M42.20,101.00l1.1,-0.65M49.96,113.50v1.3M49.96,113.50l-1.1,-0.65M49.96,113.50l1.1,-0.65M57.71,140.00v1.3M57.71,140.00l-1.1,-0.65M57.71,140.00l1.1,-0.65M65.47,137.80v1.3M65.47,137.80l-1.1,-0.65M65.47,137.80l1.1,-0.65M73.22,137.20v1.3M73.22,137.20l-1.1,-0.65M73.22,137.20l1.1,-0.65M80.98,132.20v1.3M80.98,132.20l-1.1,-0.65M80.98,132.20l1.1,-0.65M88.74,132.50v1.3M88.74,132.50l-1.1,-0.65M88.74,132.50l1.1,-0.65M96.49,143.70v1.3M96.49,143.70l-1.1,-0.65M96.49,143.70l1.1,-0.65M104.25,140.50v1.3M104.25,140.50l-1.1,-0.65M104.25,140.50l1.1,-0.65M112.00,133.50v1.3M112.00,133.50l-1.1,-0.65M112.00,133.50l1.1,-0.65" fill="none" stroke="#3399ff" stroke-width="0.5"/>
<polyline points="127.52,104.00 135.27,165.00 143.03,145.50 150.78,134.50 158.54,137.50 166.30,140.00 174.05,149.00 181.81,156.00 189.56,147.00" fill="none" stroke="#3399ff" stroke-width="1.3" stroke-linejoin="miter"/>
<path d="M127.52,104.00v1.3M127.52,104.00l-1.1,-0.65M127.52,104.00l1.1,-0.65M135.27,165.00v1.3M135.27,165.00l-1.1,-0.65M135.27,165.00l1.1,-0.65M143.03,145.50v1.3M143.03,145.50l-1.1,-0.65M143.03,145.50l1.1,-0.65M150.78,134.50v1.3M150.78,134.50l-1.1,-0.65M150.78,134.50l1.1,-0.65M158.54,137.50v1.3M158.54,137.50l-1.1,-0.65M158.54,137.50l1.1,-0.65M166.30,140.00v1.3M166.30,140.00l-1.1,-0.65M166.30,140.00l1.1,-0.65M174.05,149.00v1.3M174.05,149.00l-1.1,-0.65M174.05,149.00l1.1,-0.65M181.81,156.00v1.3M181.81,156.00l-1.1,-0.65M181.81,156.00l1.1,-0.65M189.56,147.00v1.3M189.56,147.00l-1.1,-0.65M189.56,147.00l1.1,-0.65" fill="none" stroke="#3399ff" stroke-width="0.5"/>
<polyline points="212.83,104.60 220.59,122.50 228.34,113.50 236.10,121.00 243.86,126.00 251.61,131.50 259.37,146.00 267.12,131.50" fill="none" stroke="#3399ff" stroke-width="1.3" stroke-linejoin="miter"/>
<path d="M212.83,104.60v1.3M212.83,104.60l-1.1,-0.65M212.83,104.60l1.1,-0.65M220.59,122.50v1.3M220.59,122.50l-1.1,-0.65M220.59,122.50l1.1,-0.65M228.34,113.50v1.3M228.34,113.50l-1.1,-0.65M228.34,113.50l1.1,-0.65M236.10,121.00v1.3M236.10,121.00l-1.1,-0.65M236.10,121.00l1.1,-0.65M243.86,126.00v1.3M243.86,126.00l-1.1,-0.65M243.86,126.00l1.1,-0.65M251.61,131.50v1.3M251.61,131.50l-1.1,-0.65M251.61,131.50l1.1,-0.65M259.37,146.00v1.3M259.37,146.00l-1.1,-0.65M259.37,146.00l1.1,-0.65M267.12,131.50v1.3M267.12,131.50l-1.1,-0.65M267.12,131.50l1.1,-0.65" fill="none" stroke="#3399ff" stroke-width="0.5"/>
<polyline points="298.15,103.00 305.90,108.50 313.66,110.50 321.42,110.50 329.17,122.00 336.93,133.50 344.68,118.00" fill="none" stroke="#3399ff" stroke-width="1.3" stroke-linejoin="miter"/>
<path d="M298.15,103.00v1.3M298.15,103.00l-1.1,-0.65M298.15,103.00l1.1,-0.65M305.90,108.50v1.3M305.90,108.50l-1.1,-0.65M305.90,108.50l1.1,-0.65M313.66,110.50v1.3M313.66,110.50l-1.1,-0.65M313.66,110.50l1.1,-0.65M321.42,110.50v1.3M321.42,110.50l-1.1,-0.65M321.42,110.50l1.1,-0.65M329.17,122.00v1.3M329.17,122.00l-1.1,-0.65M329.17,122.00l1.1,-0.65M336.93,133.50v1.3M336.93,133.50l-1.1,-0.65M336.93,133.50l1.1,-0.65M344.68,118.00v1.3M344.68,118.00l-1.1,-0.65M344.68,118.00l1.1,-0.65" fill="none" stroke="#3399ff" stroke-width="0.5"/>
<polyline points="383.46,118.60 391.22,134.50 398.98,134.50 406.73,136.50 414.49,157.50 422.24,144.00" fill="none" stroke="#3399ff" stroke-width="1.3" stroke-linejoin="miter"/>
<path d="M383.46,118.60v1.3M383.46,118.60l-1.1,-0.65M383.46,118.60l1.1,-0.65M391.22,134.50v1.3M391.22,134.50l-1.1,-0.65M391.22,134.50l1.1,-0.65M398.98,134.50v1.3M398.98,134.50l-1.1,-0.65M398.98,134.50l1.1,-0.65M406.73,136.50v1.3M406.73,136.50l-1.1,-0.65M406.73,136.50l1.1,-0.65M414.49,157.50v1.3M414.49,157.50l-1.1,-0.65M414.49,157.50l1.1,-0.65M422.24,144.00v1.3M422.24,144.00l-1.1,-0.65M422.24,144.00l1.1,-0.65" fill="none" stroke="#3399ff" stroke-width="0.5"/>
<polyline points="468.78,98.50 476.54,109.50 484.29,118.00 492.05,123.50 499.80,116.00" fill="none" stroke="#3399ff" stroke-width="1.3" stroke-linejoin="miter"/>
<path d="M468.78,98.50v1.3M468.78,98.50l-1.1,-0.65M468.78,98.50l1.1,-0.65M476.54,109.50v1.3M476.54,109.50l-1.1,-0.65M476.54,109.50l1.1,-0.65M484.29,118.00v1.3M484.29,118.00l-1.1,-0.65M484.29,118.00l1.1,-0.65M492.05,123.50v1.3M492.05,123.50l-1.1,-0.65M492.05,123.50l1.1,-0.65M499.80,116.00v1.3M499.80,116.00l-1.1,-0.65M499.80,116.00l1.1,-0.65" fill="none" stroke="#3399ff" stroke-width="0.5"/>
<polyline points="554.10,125.60 561.85,144.00 569.61,158.00 577.36,151.00" fill="none" stroke="#3399ff" stroke-width="1.3" stroke-linejoin="miter"/>
<path d="M554.10,125.60v1.3M554.10,125.60l-1.1,-0.65M554.10,125.60l1.1,-0.65M561.85,144.00v1.3M561.85,144.00l-1.1,-0.65M561.85,144.00l1.1,-0.65M569.61,158.00v1.3M569.61,158.00l-1.1,-0.65M569.61,158.00l1.1,-0.65M577.36,151.00v1.3M577.36,151.00l-1.1,-0.65M577.36,151.00l1.1,-0.65" fill="none" stroke="#3399ff" stroke-width="0.5"/>
<polyline points="639.41,99.70 647.17,116.80 654.92,105.00" fill="none" stroke="#3399ff" stroke-width="1.3" stroke-linejoin="miter"/>
<path d="M639.41,99.70v1.3M639.41,99.70l-1.1,-0.65M639.41,99.70l1.1,-0.65M647.17,116.80v1.3M647.17,116.80l-1.1,-0.65M647.17,116.80l1.1,-0.65M654.92,105.00v1.3M654.92,105.00l-1.1,-0.65M654.92,105.00l1.1,-0.65" fill="none" stroke="#3399ff" stroke-width="0.5"/>
<polyline points="724.73,121.00 732.48,114.50" fill="none" stroke="#3399ff" stroke-width="1.3" stroke-linejoin="miter"/>
<path d="M724.73,121.00v1.3M724.73,121.00l-1.1,-0.65M724.73,121.00l1.1,-0.65M732.48,114.50v1.3M732.48,114.50l-1.1,-0.65M732.48,114.50l1.1,-0.65" fill="none" stroke="#3399ff" stroke-width="0.5"/>
<circle cx="810.04" cy="103.75" r="0.9" fill="#3399ff"/>
<polyline points="42.20,101.30 49.96,158.00 57.71,141.50 65.47,136.50 73.22,160.00 80.98,161.50 88.74,146.20 96.49,148.50 104.25,154.50 112.00,145.00" fill="none" stroke="#0000ff" stroke-width="1.3" stroke-linejoin="miter"/>
<path d="M42.20,101.30v1.3M42.20,101.30l-1.1,-0.65M42.20,101.30l1.1,-0.65M49.96,158.00v1.3M49.96,158.00l-1.1,-0.65M49.96,158.00l1.1,-0.65M57.71,141.50v1.3M57.71,141.50l-1.1,-0.65M57.71,141.50l1.1,-0.65M65.47,136.50v1.3M65.47,136.50l-1.1,-0.65M65.47,136.50l1.1,-0.65M73.22,160.00v1.3M73.22,160.00l-1.1,-0.65M73.22,160.00l1.1,-0.65M80.98,161.50v1.3M80.98,161.50l-1.1,-0.65M80.98,161.50l1.1,-0.65M88.74,146.20v1.3M88.74,146.20l-1.1,-0.65M88.74,146.20l1.1,-0.65M96.49,148.50v1.3M96.49,148.50l-1.1,-0.65M96.49,148.50l1.1,-0.65M104.25,154.50v1.3M104.25,154.50l-1.1,-0.65M104.25,154.50l1.1,-0.65M112.00,145.00v1.3M112.00,145.00l-1.1,-0.65M112.00,145.00l1.1,-0.65" fill="none" stroke="#0000ff" stroke-width="0.5"/>
<polyline points="127.52,131.00 135.27,146.50 143.03,152.00 150.78,165.00 158.54,168.00 166.30,150.00 174.05,155.00 181.81,156.80 189.56,158.00" fill="none" stroke="#0000ff" stroke-width="1.3" stroke-linejoin="miter"/>
<path d="M127.52,131.00v1.3M127.52,131.00l-1.1,-0.65M127.52,131.00l1.1,-0.65M135.27,146.50v1.3M135.27,146.50l-1.1,-0.65M135.27,146.50l1.1,-0.65M143.03,152.00v1.3M143.03,152.00l-1.1,-0.65M143.03,152.00l1.1,-0.65M150.78,165.00v1.3M150.78,165.00l-1.1,-0.65M150.78,165.00l1.1,-0.65M158.54,168.00v1.3M158.54,168.00l-1.1,-0.65M158.54,168.00l1.1,-0.65M166.30,150.00v1.3M166.30,150.00l-1.1,-0.65M166.30,150.00l1.1,-0.65M174.05,155.00v1.3M174.05,155.00l-1.1,-0.65M174.05,155.00l1.1,-0.65M181.81,156.80v1.3M181.81,156.80l-1.1,-0.65M181.81,156.80l1.1,-0.65M189.56,158.00v1.3M189.56,158.00l-1.1,-0.65M189.56,158.00l1.1,-0.65" fill="none" stroke="#0000ff" stroke-width="0.5"/>
<polyline points="212.83,106.50 220.59,158.50 228.34,157.50 236.10,151.50 243.86,149.50 251.61,160.00 259.37,154.50 267.12,150.00" fill="none" stroke="#0000ff" stroke-width="1.3" stroke-linejoin="miter"/>
<path d="M212.83,106.50v1.3M212.83,106.50l-1.1,-0.65M212.83,106.50l1.1,-0.65M220.59,158.50v1.3M220.59,158.50l-1.1,-0.65M220.59,158.50l1.1,-0.65M228.34,157.50v1.3M228.34,157.50l-1.1,-0.65M228.34,157.50l1.1,-0.65M236.10,151.50v1.3M236.10,151.50l-1.1,-0.65M236.10,151.50l1.1,-0.65M243.86,149.50v1.3M243.86,149.50l-1.1,-0.65M243.86,149.50l1.1,-0.65M251.61,160.00v1.3M251.61,160.00l-1.1,-0.65M251.61,160.00l1.1,-0.65M259.37,154.50v1.3M259.37,154.50l-1.1,-0.65M259.37,154.50l1.1,-0.65M267.12,150.00v1.3M267.12,150.00l-1.1,-0.65M267.12,150.00l1.1,-0.65" fill="none" stroke="#0000ff" stroke-width="0.5"/>
<polyline points="298.15,120.60 305.90,153.00 313.66,146.50 321.42,137.00 329.17,140.00 336.93,137.00 344.68,133.00" fill="none" stroke="#0000ff" stroke-width="1.3" stroke-linejoin="miter"/>
<path d="M298.15,120.60v1.3M298.15,120.60l-1.1,-0.65M298.15,120.60l1.1,-0.65M305.90,153.00v1.3M305.90,153.00l-1.1,-0.65M305.90,153.00l1.1,-0.65M313.66,146.50v1.3M313.66,146.50l-1.1,-0.65M313.66,146.50l1.1,-0.65M321.42,137.00v1.3M321.42,137.00l-1.1,-0.65M321.42,137.00l1.1,-0.65M329.17,140.00v1.3M329.17,140.00l-1.1,-0.65M329.17,140.00l1.1,-0.65M336.93,137.00v1.3M336.93,137.00l-1.1,-0.65M336.93,137.00l1.1,-0.65M344.68,133.00v1.3M344.68,133.00l-1.1,-0.65M344.68,133.00l1.1,-0.65" fill="none" stroke="#0000ff" stroke-width="0.5"/>
<polyline points="383.46,138.20 391.22,154.00 398.98,144.50 406.73,147.00 414.49,159.00 422.24,151.50" fill="none" stroke="#0000ff" stroke-width="1.3" stroke-linejoin="miter"/>
<path d="M383.46,138.20v1.3M383.46,138.20l-1.1,-0.65M383.46,138.20l1.1,-0.65M391.22,154.00v1.3M391.22,154.00l-1.1,-0.65M391.22,154.00l1.1,-0.65M398.98,144.50v1.3M398.98,144.50l-1.1,-0.65M398.98,144.50l1.1,-0.65M406.73,147.00v1.3M406.73,147.00l-1.1,-0.65M406.73,147.00l1.1,-0.65M414.49,159.00v1.3M414.49,159.00l-1.1,-0.65M414.49,159.00l1.1,-0.65M422.24,151.50v1.3M422.24,151.50l-1.1,-0.65M422.24,151.50l1.1,-0.65" fill="none" stroke="#0000ff" stroke-width="0.5"/>
<polyline points="468.78,110.30 476.54,110.30 484.29,132.00 492.05,125.00 499.80,126.50" fill="none" stroke="#0000ff" stroke-width="1.3" stroke-linejoin="miter"/>
<path d="M468.78,110.30v1.3M468.78,110.30l-1.1,-0.65M468.78,110.30l1.1,-0.65M476.54,110.30v1.3M476.54,110.30l-1.1,-0.65M476.54,110.30l1.1,-0.65M484.29,132.00v1.3M484.29,132.00l-1.1,-0.65M484.29,132.00l1.1,-0.65M492.05,125.00v1.3M492.05,125.00l-1.1,-0.65M492.05,125.00l1.1,-0.65M499.80,126.50v1.3M499.80,126.50l-1.1,-0.65M499.80,126.50l1.1,-0.65" fill="none" stroke="#0000ff" stroke-width="0.5"/>
<polyline points="554.10,133.50 561.85,151.00 569.61,169.00 577.36,154.50" fill="none" stroke="#0000ff" stroke-width="1.3" stroke-linejoin="miter"/>
<path d="M554.10,133.50v1.3M554.10,133.50l-1.1,-0.65M554.10,133.50l1.1,-0.65M561.85,151.00v1.3M561.85,151.00l-1.1,-0.65M561.85,151.00l1.1,-0.65M569.61,169.00v1.3M569.61,169.00l-1.1,-0.65M569.61,169.00l1.1,-0.65M577.36,154.50v1.3M577.36,154.50l-1.1,-0.65M577.36,154.50l1.1,-0.65" fill="none" stroke="#0000ff" stroke-width="0.5"/>
<polyline points="639.41,122.30 647.17,133.00 654.92,128.50" fill="none" stroke="#0000ff" stroke-width="1.3" stroke-linejoin="miter"/>
<path d="M639.41,122.30v1.3M639.41,122.30l-1.1,-0.65M639.41,122.30l1.1,-0.65M647.17,133.00v1.3M647.17,133.00l-1.1,-0.65M647.17,133.00l1.1,-0.65M654.92,128.50v1.3M654.92,128.50l-1.1,-0.65M654.92,128.50l1.1,-0.65" fill="none" stroke="#0000ff" stroke-width="0.5"/>
<polyline points="724.73,121.00 732.48,132.00" fill="none" stroke="#0000ff" stroke-width="1.3" stroke-linejoin="miter"/>
<path d="M724.73,121.00v1.3M724.73,121.00l-1.1,-0.65M724.73,121.00l1.1,-0.65M732.48,132.00v1.3M732.48,132.00l-1.1,-0.65M732.48,132.00l1.1,-0.65" fill="none" stroke="#0000ff" stroke-width="0.5"/>
<circle cx="810.04" cy="112.70" r="0.9" fill="#0000ff"/>
<polyline points="42.20,138.50 49.96,127.00 57.71,115.00 65.47,107.00 73.22,108.00 80.98,109.20 88.74,110.80 96.49,108.30 104.25,113.20 112.00,112.60" fill="none" stroke="#ff8c00" stroke-width="1.3" stroke-linejoin="miter"/>
<path d="M42.20,138.50v1.3M42.20,138.50l-1.1,-0.65M42.20,138.50l1.1,-0.65M49.96,127.00v1.3M49.96,127.00l-1.1,-0.65M49.96,127.00l1.1,-0.65M57.71,115.00v1.3M57.71,115.00l-1.1,-0.65M57.71,115.00l1.1,-0.65M65.47,107.00v1.3M65.47,107.00l-1.1,-0.65M65.47,107.00l1.1,-0.65M73.22,108.00v1.3M73.22,108.00l-1.1,-0.65M73.22,108.00l1.1,-0.65M80.98,109.20v1.3M80.98,109.20l-1.1,-0.65M80.98,109.20l1.1,-0.65M88.74,110.80v1.3M88.74,110.80l-1.1,-0.65M88.74,110.80l1.1,-0.65M96.49,108.30v1.3M96.49,108.30l-1.1,-0.65M96.49,108.30l1.1,-0.65M104.25,113.20v1.3M104.25,113.20l-1.1,-0.65M104.25,113.20l1.1,-0.65M112.00,112.60v1.3M112.00,112.60l-1.1,-0.65M112.00,112.60l1.1,-0.65" fill="none" stroke="#ff8c00" stroke-width="0.5"/>
<polyline points="127.52,137.50 135.27,124.00 143.03,123.50 150.78,125.00 158.54,126.00 166.30,124.00 174.05,123.50 181.81,128.50 189.56,126.00" fill="none" stroke="#ff8c00" stroke-width="1.3" stroke-linejoin="miter"/>
<path d="M127.52,137.50v1.3M127.52,137.50l-1.1,-0.65M127.52,137.50l1.1,-0.65M135.27,124.00v1.3M135.27,124.00l-1.1,-0.65M135.27,124.00l1.1,-0.65M143.03,123.50v1.3M143.03,123.50l-1.1,-0.65M143.03,123.50l1.1,-0.65M150.78,125.00v1.3M150.78,125.00l-1.1,-0.65M150.78,125.00l1.1,-0.65M158.54,126.00v1.3M158.54,126.00l-1.1,-0.65M158.54,126.00l1.1,-0.65M166.30,124.00v1.3M166.30,124.00l-1.1,-0.65M166.30,124.00l1.1,-0.65M174.05,123.50v1.3M174.05,123.50l-1.1,-0.65M174.05,123.50l1.1,-0.65M181.81,128.50v1.3M181.81,128.50l-1.1,-0.65M181.81,128.50l1.1,-0.65M189.56,126.00v1.3M189.56,126.00l-1.1,-0.65M189.56,126.00l1.1,-0.65" fill="none" stroke="#ff8c00" stroke-width="0.5"/>
<polyline points="212.83,114.00 220.59,111.50 228.34,111.50 236.10,111.00 243.86,109.50 251.61,107.00 259.37,109.00 267.12,111.50" fill="none" stroke="#ff8c00" stroke-width="1.3" stroke-linejoin="miter"/>
<path d="M212.83,114.00v1.3M212.83,114.00l-1.1,-0.65M212.83,114.00l1.1,-0.65M220.59,111.50v1.3M220.59,111.50l-1.1,-0.65M220.59,111.50l1.1,-0.65M228.34,111.50v1.3M228.34,111.50l-1.1,-0.65M228.34,111.50l1.1,-0.65M236.10,111.00v1.3M236.10,111.00l-1.1,-0.65M236.10,111.00l1.1,-0.65M243.86,109.50v1.3M243.86,109.50l-1.1,-0.65M243.86,109.50l1.1,-0.65M251.61,107.00v1.3M251.61,107.00l-1.1,-0.65M251.61,107.00l1.1,-0.65M259.37,109.00v1.3M259.37,109.00l-1.1,-0.65M259.37,109.00l1.1,-0.65M267.12,111.50v1.3M267.12,111.50l-1.1,-0.65M267.12,111.50l1.1,-0.65" fill="none" stroke="#ff8c00" stroke-width="0.5"/>
<polyline points="298.15,119.50 305.90,112.00 313.66,115.00 321.42,104.50 329.17,109.50 336.93,106.00 344.68,107.00" fill="none" stroke="#ff8c00" stroke-width="1.3" stroke-linejoin="miter"/>
<path d="M298.15,119.50v1.3M298.15,119.50l-1.1,-0.65M298.15,119.50l1.1,-0.65M305.90,112.00v1.3M305.90,112.00l-1.1,-0.65M305.90,112.00l1.1,-0.65M313.66,115.00v1.3M313.66,115.00l-1.1,-0.65M313.66,115.00l1.1,-0.65M321.42,104.50v1.3M321.42,104.50l-1.1,-0.65M321.42,104.50l1.1,-0.65M329.17,109.50v1.3M329.17,109.50l-1.1,-0.65M329.17,109.50l1.1,-0.65M336.93,106.00v1.3M336.93,106.00l-1.1,-0.65M336.93,106.00l1.1,-0.65M344.68,107.00v1.3M344.68,107.00l-1.1,-0.65M344.68,107.00l1.1,-0.65" fill="none" stroke="#ff8c00" stroke-width="0.5"/>
<polyline points="383.46,124.80 391.22,121.00 398.98,117.50 406.73,116.50 414.49,114.50 422.24,120.00" fill="none" stroke="#ff8c00" stroke-width="1.3" stroke-linejoin="miter"/>
<path d="M383.46,124.80v1.3M383.46,124.80l-1.1,-0.65M383.46,124.80l1.1,-0.65M391.22,121.00v1.3M391.22,121.00l-1.1,-0.65M391.22,121.00l1.1,-0.65M398.98,117.50v1.3M398.98,117.50l-1.1,-0.65M398.98,117.50l1.1,-0.65M406.73,116.50v1.3M406.73,116.50l-1.1,-0.65M406.73,116.50l1.1,-0.65M414.49,114.50v1.3M414.49,114.50l-1.1,-0.65M414.49,114.50l1.1,-0.65M422.24,120.00v1.3M422.24,120.00l-1.1,-0.65M422.24,120.00l1.1,-0.65" fill="none" stroke="#ff8c00" stroke-width="0.5"/>
<polyline points="468.78,105.50 476.54,103.80 484.29,107.50 492.05,106.00 499.80,110.00" fill="none" stroke="#ff8c00" stroke-width="1.3" stroke-linejoin="miter"/>
<path d="M468.78,105.50v1.3M468.78,105.50l-1.1,-0.65M468.78,105.50l1.1,-0.65M476.54,103.80v1.3M476.54,103.80l-1.1,-0.65M476.54,103.80l1.1,-0.65M484.29,107.50v1.3M484.29,107.50l-1.1,-0.65M484.29,107.50l1.1,-0.65M492.05,106.00v1.3M492.05,106.00l-1.1,-0.65M492.05,106.00l1.1,-0.65M499.80,110.00v1.3M499.80,110.00l-1.1,-0.65M499.80,110.00l1.1,-0.65" fill="none" stroke="#ff8c00" stroke-width="0.5"/>
<polyline points="554.10,131.30 561.85,134.50 569.61,133.50 577.36,138.00" fill="none" stroke="#ff8c00" stroke-width="1.3" stroke-linejoin="miter"/>
<path d="M554.10,131.30v1.3M554.10,131.30l-1.1,-0.65M554.10,131.30l1.1,-0.65M561.85,134.50v1.3M561.85,134.50l-1.1,-0.65M561.85,134.50l1.1,-0.65M569.61,133.50v1.3M569.61,133.50l-1.1,-0.65M569.61,133.50l1.1,-0.65M577.36,138.00v1.3M577.36,138.00l-1.1,-0.65M577.36,138.00l1.1,-0.65" fill="none" stroke="#ff8c00" stroke-width="0.5"/>
<polyline points="639.41,112.80 647.17,114.50 654.92,115.00" fill="none" stroke="#ff8c00" stroke-width="1.3" stroke-linejoin="miter"/>
<path d="M639.41,112.80v1.3M639.41,112.80l-1.1,-0.65M639.41,112.80l1.1,-0.65M647.17,114.50v1.3M647.17,114.50l-1.1,-0.65M647.17,114.50l1.1,-0.65M654.92,115.00v1.3M654.92,115.00l-1.1,-0.65M654.92,115.00l1.1,-0.65" fill="none" stroke="#ff8c00" stroke-width="0.5"/>
<polyline points="724.73,122.80 732.48,123.60" fill="none" stroke="#ff8c00" stroke-width="1.3" stroke-linejoin="miter"/>
<path d="M724.73,122.80v1.3M724.73,122.80l-1.1,-0.65M724.73,122.80l1.1,-0.65M732.48,123.60v1.3M732.48,123.60l-1.1,-0.65M732.48,123.60l1.1,-0.65" fill="none" stroke="#ff8c00" stroke-width="0.5"/>
<circle cx="810.04" cy="122.80" r="0.9" fill="#ff8c00"/>
<polyline points="42.20,138.50 49.96,118.00 57.71,104.50 65.47,102.50 73.22,97.50 80.98,99.70 88.74,98.20 96.49,100.70 104.25,96.80 112.00,102.00" fill="none" stroke="#ff0000" stroke-width="1.3" stroke-linejoin="miter"/>
<path d="M42.20,138.50v1.3M42.20,138.50l-1.1,-0.65M42.20,138.50l1.1,-0.65M49.96,118.00v1.3M49.96,118.00l-1.1,-0.65M49.96,118.00l1.1,-0.65M57.71,104.50v1.3M57.71,104.50l-1.1,-0.65M57.71,104.50l1.1,-0.65M65.47,102.50v1.3M65.47,102.50l-1.1,-0.65M65.47,102.50l1.1,-0.65M73.22,97.50v1.3M73.22,97.50l-1.1,-0.65M73.22,97.50l1.1,-0.65M80.98,99.70v1.3M80.98,99.70l-1.1,-0.65M80.98,99.70l1.1,-0.65M88.74,98.20v1.3M88.74,98.20l-1.1,-0.65M88.74,98.20l1.1,-0.65M96.49,100.70v1.3M96.49,100.70l-1.1,-0.65M96.49,100.70l1.1,-0.65M104.25,96.80v1.3M104.25,96.80l-1.1,-0.65M104.25,96.80l1.1,-0.65M112.00,102.00v1.3M112.00,102.00l-1.1,-0.65M112.00,102.00l1.1,-0.65" fill="none" stroke="#ff0000" stroke-width="0.5"/>
<polyline points="127.52,129.00 135.27,125.50 143.03,119.50 150.78,119.00 158.54,119.20 166.30,114.00 174.05,116.50 181.81,116.80 189.56,117.80" fill="none" stroke="#ff0000" stroke-width="1.3" stroke-linejoin="miter"/>
<path d="M127.52,129.00v1.3M127.52,129.00l-1.1,-0.65M127.52,129.00l1.1,-0.65M135.27,125.50v1.3M135.27,125.50l-1.1,-0.65M135.27,125.50l1.1,-0.65M143.03,119.50v1.3M143.03,119.50l-1.1,-0.65M143.03,119.50l1.1,-0.65M150.78,119.00v1.3M150.78,119.00l-1.1,-0.65M150.78,119.00l1.1,-0.65M158.54,119.20v1.3M158.54,119.20l-1.1,-0.65M158.54,119.20l1.1,-0.65M166.30,114.00v1.3M166.30,114.00l-1.1,-0.65M166.30,114.00l1.1,-0.65M174.05,116.50v1.3M174.05,116.50l-1.1,-0.65M174.05,116.50l1.1,-0.65M181.81,116.80v1.3M181.81,116.80l-1.1,-0.65M181.81,116.80l1.1,-0.65M189.56,117.80v1.3M189.56,117.80l-1.1,-0.65M189.56,117.80l1.1,-0.65" fill="none" stroke="#ff0000" stroke-width="0.5"/>
<polyline points="212.83,119.80 220.59,113.50 228.34,115.50 236.10,110.50 243.86,110.50 251.61,111.50 259.37,117.20 267.12,112.50" fill="none" stroke="#ff0000" stroke-width="1.3" stroke-linejoin="miter"/>
<path d="M212.83,119.80v1.3M212.83,119.80l-1.1,-0.65M212.83,119.80l1.1,-0.65M220.59,113.50v1.3M220.59,113.50l-1.1,-0.65M220.59,113.50l1.1,-0.65M228.34,115.50v1.3M228.34,115.50l-1.1,-0.65M228.34,115.50l1.1,-0.65M236.10,110.50v1.3M236.10,110.50l-1.1,-0.65M236.10,110.50l1.1,-0.65M243.86,110.50v1.3M243.86,110.50l-1.1,-0.65M243.86,110.50l1.1,-0.65M251.61,111.50v1.3M251.61,111.50l-1.1,-0.65M251.61,111.50l1.1,-0.65M259.37,117.20v1.3M259.37,117.20l-1.1,-0.65M259.37,117.20l1.1,-0.65M267.12,112.50v1.3M267.12,112.50l-1.1,-0.65M267.12,112.50l1.1,-0.65" fill="none" stroke="#ff0000" stroke-width="0.5"/>
<polyline points="298.15,115.50 305.90,115.00 313.66,108.00 321.42,106.00 329.17,105.00 336.93,107.00 344.68,104.00" fill="none" stroke="#ff0000" stroke-width="1.3" stroke-linejoin="miter"/>
<path d="M298.15,115.50v1.3M298.15,115.50l-1.1,-0.65M298.15,115.50l1.1,-0.65M305.90,115.00v1.3M305.90,115.00l-1.1,-0.65M305.90,115.00l1.1,-0.65M313.66,108.00v1.3M313.66,108.00l-1.1,-0.65M313.66,108.00l1.1,-0.65M321.42,106.00v1.3M321.42,106.00l-1.1,-0.65M321.42,106.00l1.1,-0.65M329.17,105.00v1.3M329.17,105.00l-1.1,-0.65M329.17,105.00l1.1,-0.65M336.93,107.00v1.3M336.93,107.00l-1.1,-0.65M336.93,107.00l1.1,-0.65M344.68,104.00v1.3M344.68,104.00l-1.1,-0.65M344.68,104.00l1.1,-0.65" fill="none" stroke="#ff0000" stroke-width="0.5"/>
<polyline points="383.46,108.50 391.22,111.50 398.98,108.00 406.73,108.50 414.49,109.00 422.24,109.00" fill="none" stroke="#ff0000" stroke-width="1.3" stroke-linejoin="miter"/>
<path d="M383.46,108.50v1.3M383.46,108.50l-1.1,-0.65M383.46,108.50l1.1,-0.65M391.22,111.50v1.3M391.22,111.50l-1.1,-0.65M391.22,111.50l1.1,-0.65M398.98,108.00v1.3M398.98,108.00l-1.1,-0.65M398.98,108.00l1.1,-0.65M406.73,108.50v1.3M406.73,108.50l-1.1,-0.65M406.73,108.50l1.1,-0.65M414.49,109.00v1.3M414.49,109.00l-1.1,-0.65M414.49,109.00l1.1,-0.65M422.24,109.00v1.3M422.24,109.00l-1.1,-0.65M422.24,109.00l1.1,-0.65" fill="none" stroke="#ff0000" stroke-width="0.5"/>
<polyline points="468.78,115.50 476.54,110.80 484.29,112.00 492.05,111.00 499.80,110.50" fill="none" stroke="#ff0000" stroke-width="1.3" stroke-linejoin="miter"/>
<path d="M468.78,115.50v1.3M468.78,115.50l-1.1,-0.65M468.78,115.50l1.1,-0.65M476.54,110.80v1.3M476.54,110.80l-1.1,-0.65M476.54,110.80l1.1,-0.65M484.29,112.00v1.3M484.29,112.00l-1.1,-0.65M484.29,112.00l1.1,-0.65M492.05,111.00v1.3M492.05,111.00l-1.1,-0.65M492.05,111.00l1.1,-0.65M499.80,110.50v1.3M499.80,110.50l-1.1,-0.65M499.80,110.50l1.1,-0.65" fill="none" stroke="#ff0000" stroke-width="0.5"/>
<polyline points="554.10,133.20 561.85,131.00 569.61,135.80 577.36,133.20" fill="none" stroke="#ff0000" stroke-width="1.3" stroke-linejoin="miter"/>
<path d="M554.10,133.20v1.3M554.10,133.20l-1.1,-0.65M554.10,133.20l1.1,-0.65M561.85,131.00v1.3M561.85,131.00l-1.1,-0.65M561.85,131.00l1.1,-0.65M569.61,135.80v1.3M569.61,135.80l-1.1,-0.65M569.61,135.80l1.1,-0.65M577.36,133.20v1.3M577.36,133.20l-1.1,-0.65M577.36,133.20l1.1,-0.65" fill="none" stroke="#ff0000" stroke-width="0.5"/>
<polyline points="639.41,105.80 647.17,105.70 654.92,106.00" fill="none" stroke="#ff0000" stroke-width="1.3" stroke-linejoin="miter"/>
<path d="M639.41,105.80v1.3M639.41,105.80l-1.1,-0.65M639.41,105.80l1.1,-0.65M647.17,105.70v1.3M647.17,105.70l-1.1,-0.65M647.17,105.70l1.1,-0.65M654.92,106.00v1.3M654.92,106.00l-1.1,-0.65M654.92,106.00l1.1,-0.65" fill="none" stroke="#ff0000" stroke-width="0.5"/>
<polyline points="724.73,112.50 732.48,119.00" fill="none" stroke="#ff0000" stroke-width="1.3" stroke-linejoin="miter"/>
<path d="M724.73,112.50v1.3M724.73,112.50l-1.1,-0.65M724.73,112.50l1.1,-0.65M732.48,119.00v1.3M732.48,119.00l-1.1,-0.65M732.48,119.00l1.1,-0.65" fill="none" stroke="#ff0000" stroke-width="0.5"/>
<circle cx="810.04" cy="117.50" r="0.9" fill="#ff0000"/>
<path d="M112.60,78.75 h3.2 M112.60,78.75 l-1.8,-2.9 M112.60,78.75 l-1.8,2.9" stroke="#808080" stroke-width="0.9" fill="none"/>
<path d="M190.16,89.40 h3.2 M190.16,89.40 l-1.8,-2.9 M190.16,89.40 l-1.8,2.9" stroke="#808080" stroke-width="0.9" fill="none"/>
<path d="M267.72,88.50 h3.2 M267.72,88.50 l-1.8,-2.9 M267.72,88.50 l-1.8,2.9" stroke="#808080" stroke-width="0.9" fill="none"/>
<path d="M345.28,76.60 h3.2 M345.28,76.60 l-1.8,-2.9 M345.28,76.60 l-1.8,2.9" stroke="#808080" stroke-width="0.9" fill="none"/>
<path d="M422.84,99.50 h3.2 M422.84,99.50 l-1.8,-2.9 M422.84,99.50 l-1.8,2.9" stroke="#808080" stroke-width="0.9" fill="none"/>
<path d="M500.40,76.20 h3.2 M500.40,76.20 l-1.8,-2.9 M500.40,76.20 l-1.8,2.9" stroke="#808080" stroke-width="0.9" fill="none"/>
<path d="M577.96,96.00 h3.2 M577.96,96.00 l-1.8,-2.9 M577.96,96.00 l-1.8,2.9" stroke="#808080" stroke-width="0.9" fill="none"/>
<path d="M655.52,86.00 h3.2 M655.52,86.00 l-1.8,-2.9 M655.52,86.00 l-1.8,2.9" stroke="#808080" stroke-width="0.9" fill="none"/>
<path d="M733.08,82.00 h3.2 M733.08,82.00 l-1.8,-2.9 M733.08,82.00 l-1.8,2.9" stroke="#808080" stroke-width="0.9" fill="none"/>
<path d="M810.64,97.50 h3.2 M810.64,97.50 l-1.8,-2.9 M810.64,97.50 l-1.8,2.9" stroke="#808080" stroke-width="0.9" fill="none"/>
<line x1="34.0" y1="66.0" x2="826.0" y2="66.0" stroke="#262626" stroke-width="1.3"/>
<line x1="34.0" y1="289.9" x2="826.0" y2="289.9" stroke="#262626" stroke-width="1.3"/>
<line x1="34.5" y1="65.4" x2="34.5" y2="290.2" stroke="#1a1a1a" stroke-width="1.05"/>
<line x1="825.5" y1="65.4" x2="825.5" y2="290.2" stroke="#1a1a1a" stroke-width="1.05"/>
<line x1="32.0" y1="258.40" x2="34.5" y2="258.40" stroke="#222" stroke-width="0.8"/>
<text x="30.3" y="262.80" font-size="11.8" text-anchor="end" textLength="12.2" lengthAdjust="spacingAndGlyphs">10</text>
<line x1="32.0" y1="221.00" x2="34.5" y2="221.00" stroke="#222" stroke-width="0.8"/>
<text x="30.3" y="225.40" font-size="11.8" text-anchor="end" textLength="12.2" lengthAdjust="spacingAndGlyphs">20</text>
<line x1="32.0" y1="183.60" x2="34.5" y2="183.60" stroke="#222" stroke-width="0.8"/>
<text x="30.3" y="188.00" font-size="11.8" text-anchor="end" textLength="12.2" lengthAdjust="spacingAndGlyphs">30</text>
<line x1="32.0" y1="146.20" x2="34.5" y2="146.20" stroke="#222" stroke-width="0.8"/>
<text x="30.3" y="150.60" font-size="11.8" text-anchor="end" textLength="12.2" lengthAdjust="spacingAndGlyphs">40</text>
<line x1="32.0" y1="108.80" x2="34.5" y2="108.80" stroke="#222" stroke-width="0.8"/>
<text x="30.3" y="113.20" font-size="11.8" text-anchor="end" textLength="12.2" lengthAdjust="spacingAndGlyphs">50</text>
<line x1="32.0" y1="71.40" x2="34.5" y2="71.40" stroke="#222" stroke-width="0.8"/>
<text x="30.3" y="75.80" font-size="11.8" text-anchor="end" textLength="12.2" lengthAdjust="spacingAndGlyphs">60</text>
<line x1="42.45" y1="289.6" x2="42.45" y2="291.6" stroke="#222" stroke-width="0.8"/>
<text x="42.05" y="300.2" font-size="10.3" text-anchor="middle" textLength="11.5" lengthAdjust="spacingAndGlyphs">T1</text>
<line x1="127.74" y1="289.6" x2="127.74" y2="291.6" stroke="#222" stroke-width="0.8"/>
<text x="127.34" y="300.2" font-size="10.3" text-anchor="middle" textLength="11.5" lengthAdjust="spacingAndGlyphs">T2</text>
<line x1="213.03" y1="289.6" x2="213.03" y2="291.6" stroke="#222" stroke-width="0.8"/>
<text x="212.63" y="300.2" font-size="10.3" text-anchor="middle" textLength="11.5" lengthAdjust="spacingAndGlyphs">T3</text>
<line x1="298.32" y1="289.6" x2="298.32" y2="291.6" stroke="#222" stroke-width="0.8"/>
<text x="297.92" y="300.2" font-size="10.3" text-anchor="middle" textLength="11.5" lengthAdjust="spacingAndGlyphs">T4</text>
<line x1="383.61" y1="289.6" x2="383.61" y2="291.6" stroke="#222" stroke-width="0.8"/>
<text x="383.21" y="300.2" font-size="10.3" text-anchor="middle" textLength="11.5" lengthAdjust="spacingAndGlyphs">T5</text>
<line x1="468.90" y1="289.6" x2="468.90" y2="291.6" stroke="#222" stroke-width="0.8"/>
<text x="468.50" y="300.2" font-size="10.3" text-anchor="middle" textLength="11.5" lengthAdjust="spacingAndGlyphs">T6</text>
<line x1="554.19" y1="289.6" x2="554.19" y2="291.6" stroke="#222" stroke-width="0.8"/>
<text x="553.79" y="300.2" font-size="10.3" text-anchor="middle" textLength="11.5" lengthAdjust="spacingAndGlyphs">T7</text>
<line x1="639.48" y1="289.6" x2="639.48" y2="291.6" stroke="#222" stroke-width="0.8"/>
<text x="639.08" y="300.2" font-size="10.3" text-anchor="middle" textLength="11.5" lengthAdjust="spacingAndGlyphs">T8</text>
<line x1="724.77" y1="289.6" x2="724.77" y2="291.6" stroke="#222" stroke-width="0.8"/>
<text x="724.37" y="300.2" font-size="10.3" text-anchor="middle" textLength="11.5" lengthAdjust="spacingAndGlyphs">T9</text>
<line x1="810.06" y1="289.6" x2="810.06" y2="291.6" stroke="#222" stroke-width="0.8"/>
<text x="809.66" y="300.2" font-size="10.3" text-anchor="middle" textLength="17" lengthAdjust="spacingAndGlyphs">T10</text>
<text x="80.98" y="62" font-size="10.3" text-anchor="middle" textLength="11.5" lengthAdjust="spacingAndGlyphs">T1</text>
<text x="158.54" y="62" font-size="10.3" text-anchor="middle" textLength="11.5" lengthAdjust="spacingAndGlyphs">T2</text>
<text x="236.10" y="62" font-size="10.3" text-anchor="middle" textLength="11.5" lengthAdjust="spacingAndGlyphs">T3</text>
<text x="313.66" y="62" font-size="10.3" text-anchor="middle" textLength="11.5" lengthAdjust="spacingAndGlyphs">T4</text>
<text x="391.22" y="62" font-size="10.3" text-anchor="middle" textLength="11.5" lengthAdjust="spacingAndGlyphs">T5</text>
<text x="468.78" y="62" font-size="10.3" text-anchor="middle" textLength="11.5" lengthAdjust="spacingAndGlyphs">T6</text>
<text x="546.34" y="62" font-size="10.3" text-anchor="middle" textLength="11.5" lengthAdjust="spacingAndGlyphs">T7</text>
<text x="623.90" y="62" font-size="10.3" text-anchor="middle" textLength="11.5" lengthAdjust="spacingAndGlyphs">T8</text>
<text x="701.46" y="62" font-size="10.3" text-anchor="middle" textLength="11.5" lengthAdjust="spacingAndGlyphs">T9</text>
<text x="779.02" y="62" font-size="10.3" text-anchor="middle" textLength="17" lengthAdjust="spacingAndGlyphs">T10</text>
<text x="430" y="49.8" font-size="12.7" text-anchor="middle" textLength="106" lengthAdjust="spacingAndGlyphs">Evaluation on Task</text>
<text x="430" y="313.9" font-size="12.7" text-anchor="middle" textLength="157.6" lengthAdjust="spacingAndGlyphs">Training Sequence Per Task</text>
<text x="0" y="0" font-size="11.3" text-anchor="middle" textLength="64" lengthAdjust="spacingAndGlyphs" transform="translate(11.7,177.8) rotate(-90)">Accuracy %</text>
<rect x="39.5" y="3.5" width="781" height="30" rx="2" ry="2" fill="#fff" stroke="#dcdcdc" stroke-width="1"/>
<line x1="43.0" y1="11.3" x2="62.0" y2="11.3" stroke="#000" stroke-width="1.1" stroke-dasharray="1,2"/>
<path d="M52.0,11.3 h2.6 M52.0,11.3 l-1.1,-1.9 M52.0,11.3 l-1.1,1.9" stroke="#000" stroke-width="1" fill="none"/>
<text x="69" y="14.8" font-size="10.4" textLength="116.6" lengthAdjust="spacingAndGlyphs">finetuning: 21.30 (26.90)</text>
<path d="M52.0,24.8 h2.6 M52.0,24.8 l-1.3,-2.3 M52.0,24.8 l-1.3,2.3" stroke="#888" stroke-width="0.9" fill="none"/>
<text x="69" y="27.8" font-size="10.4" textLength="82.3" lengthAdjust="spacingAndGlyphs">joint*: 55.70 (n/a)</text>
<line x1="203.0" y1="11.3" x2="222.0" y2="11.3" stroke="#bcbd22" stroke-width="1.1" stroke-dasharray="1,2"/>
<path d="M212.0,11.3 h2.6 M212.0,11.3 l-1.1,-1.9 M212.0,11.3 l-1.1,1.9" stroke="#bcbd22" stroke-width="1" fill="none"/>
<text x="229.75" y="14.8" font-size="10.4" textLength="117.4" lengthAdjust="spacingAndGlyphs">R-PM 4.5k: 36.09 (10.96)</text>
<line x1="203.0" y1="24.8" x2="222.0" y2="24.8" stroke="#2ca02c" stroke-width="1.1" stroke-dasharray="1,2"/>
<path d="M212.0,24.8 h2.6 M212.0,24.8 l-1.1,-1.9 M212.0,24.8 l-1.1,1.9" stroke="#2ca02c" stroke-width="1" fill="none"/>
<text x="229.75" y="27.8" font-size="10.4" textLength="102.5" lengthAdjust="spacingAndGlyphs">R-PM 9k: 38.69 (7.23)</text>
<line x1="364.0" y1="11.3" x2="383.0" y2="11.3" stroke="#e04ecb" stroke-width="1.1" stroke-dasharray="1,2"/>
<path d="M373.0,11.3 h2.6 M373.0,11.3 l-1.1,-1.9 M373.0,11.3 l-1.1,1.9" stroke="#e04ecb" stroke-width="1" fill="none"/>
<text x="390.6" y="14.8" font-size="10.4" textLength="111.6" lengthAdjust="spacingAndGlyphs">R-FM 4.5k: 37.31 (9.21)</text>
<line x1="364.0" y1="24.8" x2="383.0" y2="24.8" stroke="#9056d0" stroke-width="1.1" stroke-dasharray="1,2"/>
<path d="M373.0,24.8 h2.6 M373.0,24.8 l-1.1,-1.9 M373.0,24.8 l-1.1,1.9" stroke="#9056d0" stroke-width="1" fill="none"/>
<text x="390.6" y="27.8" font-size="10.4" textLength="102.9" lengthAdjust="spacingAndGlyphs">R-FM 9k: 42.36 (3.94)</text>
<line x1="518.75" y1="11.3" x2="538.25" y2="11.3" stroke="#3399ff" stroke-width="1.3"/>
<path d="M528.25,11.3 v2.6 M528.25,11.3 l-2.2,-1.3 M528.25,11.3 l2.2,-1.3" stroke="#3399ff" stroke-width="0.9" fill="none"/>
<text x="545.6" y="14.8" font-size="10.4" textLength="109.6" lengthAdjust="spacingAndGlyphs">GEM 4.5k: 45.13 (4.96)</text>
<line x1="518.75" y1="24.8" x2="538.25" y2="24.8" stroke="#1a1aff" stroke-width="1.3"/>
<path d="M528.25,24.8 v2.6 M528.25,24.8 l-2.2,-1.3 M528.25,24.8 l2.2,-1.3" stroke="#1a1aff" stroke-width="0.9" fill="none"/>
<text x="545.6" y="27.8" font-size="10.4" textLength="100.9" lengthAdjust="spacingAndGlyphs">GEM 9k: 41.75 (5.18)</text>
<line x1="671.9" y1="11.3" x2="691.4" y2="11.3" stroke="#ff8c1a" stroke-width="1.3"/>
<path d="M681.4,11.3 v2.6 M681.4,11.3 l-2.2,-1.3 M681.4,11.3 l2.2,-1.3" stroke="#ff8c1a" stroke-width="0.9" fill="none"/>
<text x="698.4" y="14.8" font-size="10.4" textLength="117.9" lengthAdjust="spacingAndGlyphs">iCaRL 4.5k: 47.27 (-1.11)</text>
<line x1="671.9" y1="24.8" x2="691.4" y2="24.8" stroke="#ff1a1a" stroke-width="1.3"/>
<path d="M681.4,24.8 v2.6 M681.4,24.8 l-2.2,-1.3 M681.4,24.8 l2.2,-1.3" stroke="#ff1a1a" stroke-width="0.9" fill="none"/>
<text x="698.4" y="27.8" font-size="10.4" textLength="108.5" lengthAdjust="spacingAndGlyphs">iCaRL 9k: 48.76 (-1.76)</text>
</svg>
</body></html>
